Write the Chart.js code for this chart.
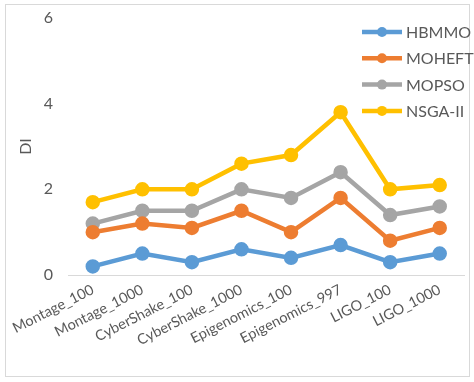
<!DOCTYPE html>
<html>
<head>
<meta charset="utf-8">
<script src="https://cdn.jsdelivr.net/npm/chart.js@4/dist/chart.umd.min.js"></script>
<style>
html,body{margin:0;padding:0;background:#fff;}
#wrap{width:474px;height:382px;position:relative;}
</style>
</head>
<body>
<div id="wrap"><canvas id="c" width="474" height="382"></canvas></div>
<script>
const categories = ["Montage_100","Montage_1000","CyberShake_100","CyberShake_1000","Epigenomics_100","Epigenomics_997","LIGO_100","LIGO_1000"];
const hbmmo  = [0.2, 0.5, 0.3, 0.6, 0.4, 0.7, 0.3, 0.5];
const moheft = [1.0, 1.2, 1.1, 1.5, 1.0, 1.8, 0.8, 1.1];
const mopso  = [1.2, 1.5, 1.5, 2.0, 1.8, 2.4, 1.4, 1.6];
const nsga2  = [1.7, 2.0, 2.0, 2.6, 2.8, 3.8, 2.0, 2.1];
const seriesNames = ["HBMMO","MOHEFT","MOPSO","NSGA-II"];
const yTicks = [0, 2, 4, 6];

const colors = ["#5B9BD5","#ED7D31","#A5A5A5","#FFC000"];
const FONT = "Lato, 'Liberation Sans', sans-serif";
const TXT = "#595959";

function ds(label, data, color){
  return {label, data, borderColor: color, backgroundColor: color,
    pointBackgroundColor: color, pointBorderColor: color,
    borderWidth: 4.5, pointRadius: 5, pointHoverRadius: 5, tension: 0};
}

const borderPlugin = {
  id: 'frame',
  beforeDraw(chart){
    const ctx = chart.ctx;
    ctx.save();
    ctx.fillStyle = '#fff';
    ctx.fillRect(0,0,chart.width,chart.height);
    ctx.strokeStyle = '#D9D9D9';
    ctx.lineWidth = 1;
    ctx.strokeRect(5.5, 4.5, 464, 372);
    ctx.restore();
  }
};

const legendPlugin = {
  id: 'insideLegend',
  afterDraw(chart){
    const ctx = chart.ctx;
    const x0 = 362, y0 = 32, step = 26.3;
    ctx.save();
    ctx.font = "16px " + FONT;
    ctx.textBaseline = 'middle';
    ctx.textAlign = 'left';
    chart.data.datasets.forEach((d, i) => {
      const y = y0 + i*step;
      ctx.strokeStyle = d.borderColor;
      ctx.lineWidth = 4.5;
      ctx.beginPath(); ctx.moveTo(x0, y); ctx.lineTo(x0+40, y); ctx.stroke();
      ctx.fillStyle = d.borderColor;
      ctx.beginPath(); ctx.arc(x0+20, y, 5, 0, Math.PI*2); ctx.fill();
      ctx.fillStyle = TXT;
      ctx.fillText(d.label, x0+44, y+1);
    });
    ctx.restore();
  }
};

new Chart(document.getElementById('c'), {
  type: 'line',
  data: {
    labels: categories,
    datasets: [
      ds(seriesNames[0], hbmmo, colors[0]),
      ds(seriesNames[1], moheft, colors[1]),
      ds(seriesNames[2], mopso, colors[2]),
      ds(seriesNames[3], nsga2, colors[3])
    ]
  },
  options: {
    responsive: false,
    animation: false,
    devicePixelRatio: 1,
    layout: {padding: {top: 18, right: 4, left: 0, bottom: 0}},
    plugins: {legend: {display: false}, tooltip: {enabled: false}},
    scales: {
      x: {
        offset: true,
        grid: {display: false, drawTicks: false},
        border: {display: true, color: '#D9D9D9', width: 1},
        ticks: {color: TXT, font: {family: FONT, size: 14.5}, minRotation: 27, maxRotation: 27, padding: 6, autoSkip: false},
        afterFit(s){ s.height = 107; }
      },
      y: {
        min: 0, max: 6,
        afterBuildTicks(s){ s.ticks = yTicks.map(v => ({value: v})); },
        grid: {display: true, color: 'rgba(0,0,0,0)', drawTicks: true, tickLength: 12},
        border: {display: false},
        ticks: {color: TXT, font: {family: FONT, size: 16}, padding: 3},
        title: {display: true, text: 'DI', color: TXT, font: {family: FONT, size: 16}, padding: {top: 16.5, bottom: 0}},
        afterFit(s){ s.width = 68; }
      }
    }
  },
  plugins: [borderPlugin, legendPlugin]
});
</script>
</body>
</html>
